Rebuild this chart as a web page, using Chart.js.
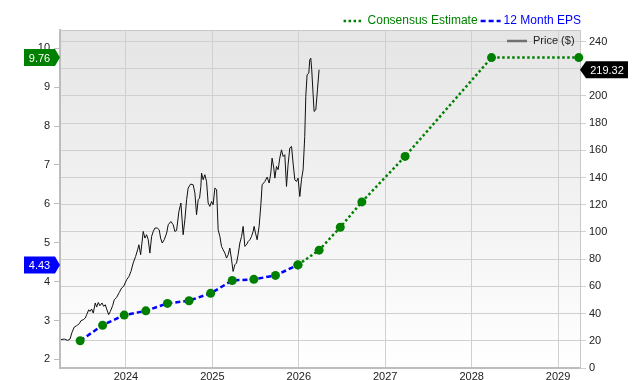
<!DOCTYPE html>
<html>
<head>
<meta charset="utf-8">
<script src="https://cdn.jsdelivr.net/npm/chart.js@4.4.1/dist/chart.umd.min.js"></script>
<style>
  html, body { margin: 0; padding: 0; background: #fff; }
  canvas { display: block; }
</style>
</head>
<body>
<canvas id="chart" width="640" height="380"></canvas>
<script>
"use strict";
// x values are decimal years
const yearTicks = [2024, 2025, 2026, 2027, 2028, 2029];
const epsTicks = [2, 3, 4, 5, 6, 7, 8, 9, 10];
const priceTicks = [0, 20, 40, 60, 80, 100, 120, 140, 160, 180, 200, 220, 240];

const actualDates = [2023.47, 2023.73, 2023.98, 2024.23, 2024.48, 2024.73, 2024.98, 2025.23, 2025.48, 2025.73, 2025.99];
const actualEps = [2.48, 2.88, 3.14, 3.25, 3.44, 3.51, 3.70, 4.03, 4.06, 4.16, 4.43];

const estimateDates = [2025.99, 2026.235, 2026.48, 2026.73, 2027.23, 2028.23, 2029.24];
const estimateEps = [4.43, 4.81, 5.40, 6.05, 7.22, 9.76, 9.76];

const priceDates = [
  2023.249, 2023.287, 2023.326, 2023.353, 2023.376, 2023.402, 2023.430, 2023.460, 2023.480, 2023.506,
  2023.529, 2023.546, 2023.569, 2023.584, 2023.603, 2023.622, 2023.645, 2023.661, 2023.680, 2023.699,
  2023.723, 2023.742, 2023.761, 2023.777, 2023.800, 2023.819, 2023.846, 2023.865, 2023.892, 2023.923,
  2023.950, 2023.973, 2024.008, 2024.035, 2024.058, 2024.084, 2024.112, 2024.135, 2024.150, 2024.170,
  2024.200, 2024.220, 2024.239, 2024.258, 2024.277, 2024.297, 2024.316, 2024.335, 2024.362, 2024.385,
  2024.401, 2024.420, 2024.443, 2024.471, 2024.489, 2024.520, 2024.547, 2024.566, 2024.586, 2024.613,
  2024.636, 2024.662, 2024.682, 2024.702, 2024.720, 2024.748, 2024.778, 2024.798, 2024.817, 2024.836,
  2024.852, 2024.867, 2024.875, 2024.894, 2024.913, 2024.933, 2024.951, 2024.971, 2024.991, 2025.009,
  2025.029, 2025.049, 2025.067, 2025.087, 2025.106, 2025.125, 2025.145, 2025.164, 2025.183, 2025.202,
  2025.222, 2025.240, 2025.260, 2025.280, 2025.298, 2025.318, 2025.338, 2025.356, 2025.376, 2025.395,
  2025.414, 2025.434, 2025.453, 2025.472, 2025.483, 2025.499, 2025.518, 2025.541, 2025.561, 2025.576,
  2025.607, 2025.634, 2025.657, 2025.676, 2025.691, 2025.711, 2025.723, 2025.742, 2025.761, 2025.780,
  2025.800, 2025.819, 2025.838, 2025.858, 2025.876, 2025.896, 2025.916, 2025.934, 2025.954, 2025.973,
  2025.992, 2026.012, 2026.031, 2026.050, 2026.069, 2026.081, 2026.096, 2026.116, 2026.127, 2026.139,
  2026.150, 2026.165, 2026.177, 2026.197, 2026.216, 2026.235
];
const prices = [
  20.9, 21.3, 20.3, 21.3, 26.2, 30.1, 31.1, 32.6, 34.8, 35.5,
  36.7, 39.2, 42.8, 41.6, 43.4, 40.4, 47.8, 44.8, 48.2, 45.8,
  47.8, 45.3, 46.5, 43.4, 39.2, 41.6, 45.8, 50.2, 51.9, 55.6,
  58.8, 60.0, 64.9, 67.3, 71.0, 77.2, 82.0, 86.9, 90.6, 83.3,
  100.4, 95.5, 98.0, 94.3, 84.5, 96.7, 100.4, 102.9, 102.9, 101.6,
  95.5, 91.9, 94.3, 99.2, 105.3, 107.7, 105.3, 100.4, 101.1, 115.1,
  121.3, 98.0, 109.0, 123.7, 132.3, 135.2, 134.7, 128.6, 112.7, 123.7,
  124.9, 133.5, 143.3, 138.4, 142.1, 137.1, 121.3, 118.8, 122.4, 120.0,
  132.3, 131.1, 101.6, 96.7, 89.4, 86.9, 84.5, 80.8, 83.3, 88.2,
  79.6, 71.0, 75.9, 77.2, 83.3, 91.9, 96.7, 104.1, 89.4, 90.6,
  93.0, 94.3, 96.7, 100.4, 104.1, 99.2, 94.3, 104.1, 120.0, 134.7,
  137.1, 140.4, 136.0, 143.3, 154.3, 147.0, 139.6, 148.2, 145.8, 154.3,
  160.4, 155.5, 156.8, 133.5, 149.4, 161.7, 162.9, 150.7, 138.4, 137.1,
  139.6, 126.1, 138.4, 145.7, 170.2, 199.6, 215.6, 216.8, 226.6, 227.8,
  219.2, 202.1, 188.6, 189.8, 204.5, 219.32
];

const GREEN = "#008000";
const BLUE = "#0000ff";
const FONT = '"Liberation Sans", Arial, sans-serif';

function toPoints(xs, ys) {
  return xs.map((x, i) => ({ x: x, y: ys[i] }));
}

const backgroundPlugin = {
  id: "bg",
  beforeDraw(chart) {
    const { ctx, chartArea: a } = chart;
    const g = ctx.createLinearGradient(0, a.top, 0, a.bottom);
    g.addColorStop(0, "#e5e5e5");
    g.addColorStop(1, "#ffffff");
    ctx.save();
    ctx.fillStyle = g;
    ctx.fillRect(a.left, a.top, a.right - a.left, a.bottom - a.top);
    ctx.restore();
  },
  afterDraw(chart) {
    const { ctx, chartArea: a } = chart;
    ctx.save();
    ctx.strokeStyle = "#c8c8c8";
    ctx.lineWidth = 1;
    ctx.beginPath();
    ctx.moveTo(a.left, a.top + 0.5);
    ctx.lineTo(a.right, a.top + 0.5);
    ctx.stroke();
    ctx.restore();
  },
};

function drawTag(ctx, x, y, text, color, side) {
  const h = 17;
  ctx.save();
  ctx.font = "11px " + FONT;
  ctx.fillStyle = color;
  ctx.beginPath();
  if (side === "left") {
    const a = 5, w = 31;
    ctx.moveTo(x, y);
    ctx.lineTo(x - a, y - h / 2);
    ctx.lineTo(x - a - w, y - h / 2);
    ctx.lineTo(x - a - w, y + h / 2);
    ctx.lineTo(x - a, y + h / 2);
    ctx.closePath();
    ctx.fill();
    ctx.fillStyle = "#fff";
    ctx.textAlign = "center";
    ctx.textBaseline = "middle";
    ctx.fillText(text, x - a - w / 2, y + 1);
  } else {
    const a = 6, w = 42;
    ctx.moveTo(x, y);
    ctx.lineTo(x + a, y - h / 2);
    ctx.lineTo(x + a + w, y - h / 2);
    ctx.lineTo(x + a + w, y + h / 2);
    ctx.lineTo(x + a, y + h / 2);
    ctx.closePath();
    ctx.fill();
    ctx.fillStyle = "#fff";
    ctx.textAlign = "center";
    ctx.textBaseline = "middle";
    ctx.fillText(text, x + a + w / 2, y + 1);
  }
  ctx.restore();
}

const overlayPlugin = {
  id: "overlay",
  afterDraw(chart) {
    const { ctx, chartArea: a } = chart;
    const yL = chart.scales.y;
    const yR = chart.scales.y2;

    // top legend
    ctx.save();
    ctx.font = "12px " + FONT;
    ctx.textBaseline = "middle";
    const ly = 21;
    let x = 581;
    const t2 = "12 Month EPS";
    const w2 = ctx.measureText(t2).width;
    ctx.fillStyle = BLUE;
    ctx.fillText(t2, x - w2, ly);
    x = x - w2 - 3;
    ctx.strokeStyle = BLUE;
    ctx.lineWidth = 2.5;
    ctx.setLineDash([5, 3]);
    ctx.beginPath();
    ctx.moveTo(x - 20, ly);
    ctx.lineTo(x, ly);
    ctx.stroke();
    x = x - 23;
    const t1 = "Consensus Estimate";
    const w1 = ctx.measureText(t1).width;
    ctx.fillStyle = GREEN;
    ctx.fillText(t1, x - w1, ly);
    x = x - w1 - 6;
    ctx.strokeStyle = GREEN;
    ctx.setLineDash([2.5, 2.5]);
    ctx.beginPath();
    ctx.moveTo(x - 18, ly);
    ctx.lineTo(x, ly);
    ctx.stroke();
    ctx.setLineDash([]);

    // price legend inside the plot
    ctx.font = "11px " + FONT;
    ctx.strokeStyle = "#707070";
    ctx.lineWidth = 2.5;
    ctx.beginPath();
    ctx.moveTo(507, 41);
    ctx.lineTo(527, 41);
    ctx.stroke();
    ctx.fillStyle = "#222";
    ctx.fillText("Price ($)", 533, 41);
    ctx.restore();

    // value tags
    const lastEst = estimateEps[estimateEps.length - 1];
    const lastEps = actualEps[actualEps.length - 1];
    const lastPrice = prices[prices.length - 1];
    drawTag(ctx, a.left, yL.getPixelForValue(lastEst), lastEst.toFixed(2), GREEN, "left");
    drawTag(ctx, a.left, yL.getPixelForValue(lastEps), lastEps.toFixed(2), BLUE, "left");
    drawTag(ctx, a.right, yR.getPixelForValue(lastPrice), lastPrice.toFixed(2), "#000", "right");
  },
};

const tickFont = { family: FONT, size: 11 };

const config = {
  type: "line",
  data: {
    datasets: [
      {
        label: "12 Month EPS",
        data: toPoints(actualDates, actualEps),
        yAxisID: "y",
        borderColor: BLUE,
        borderWidth: 2.5,
        borderDash: [5, 3],
        pointRadius: 4.5,
        pointBackgroundColor: GREEN,
        pointBorderColor: GREEN,
        pointBorderWidth: 0,
        tension: 0,
        clip: false,
      },
      {
        label: "Consensus Estimate",
        data: toPoints(estimateDates, estimateEps),
        yAxisID: "y",
        borderColor: GREEN,
        borderWidth: 2.5,
        borderDash: [2.5, 2.5],
        pointRadius: 4.5,
        pointBackgroundColor: GREEN,
        pointBorderColor: GREEN,
        pointBorderWidth: 0,
        tension: 0,
        clip: false,
      },
      {
        label: "Price ($)",
        data: toPoints(priceDates, prices),
        yAxisID: "y2",
        borderColor: "#111",
        borderWidth: 1,
        pointRadius: 0,
        tension: 0,
      },
    ],
  },
  options: {
    responsive: false,
    animation: false,
    layout: { padding: { top: 30, left: 0, right: 0, bottom: 0 } },
    plugins: {
      legend: { display: false },
      tooltip: { enabled: false },
    },
    scales: {
      x: {
        type: "linear",
        min: 2023.237,
        max: 2029.254,
        afterBuildTicks: (s) => { s.ticks = yearTicks.map((v) => ({ value: v })); },
        afterFit: (s) => { s.height = 12; },
        grid: { color: "#d0d0d0", drawTicks: false },
        border: { color: "#bdbdbd", width: 2 },
        ticks: { font: tickFont, color: "#222", padding: 2, callback: (v) => String(v) },
      },
      y: {
        position: "left",
        min: 1.78,
        max: 10.47,
        afterBuildTicks: (s) => { s.ticks = epsTicks.map((v) => ({ value: v })); },
        afterFit: (s) => { s.width = 60; },
        grid: { drawOnChartArea: false, tickLength: 6, color: "#bdbdbd" },
        border: { color: "#bdbdbd", width: 2 },
        ticks: { font: tickFont, color: "#222", padding: 4, callback: (v) => String(v) },
      },
      y2: {
        position: "right",
        min: 0,
        max: 248.5,
        afterBuildTicks: (s) => { s.ticks = priceTicks.map((v) => ({ value: v })); },
        afterFit: (s) => { s.width = 60; },
        grid: { color: "#d0d0d0", tickLength: 6 },
        border: { color: "#c8c8c8", width: 1 },
        ticks: { font: tickFont, color: "#222", padding: 3, callback: (v) => String(v) },
      },
    },
  },
  plugins: [backgroundPlugin, overlayPlugin],
};

new Chart(document.getElementById("chart").getContext("2d"), config);
</script>
</body>
</html>
